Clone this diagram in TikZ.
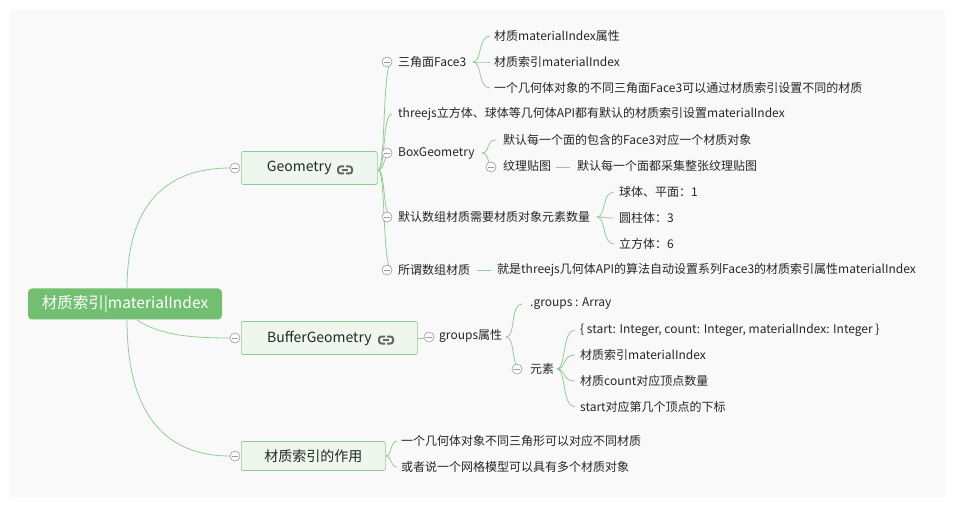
\documentclass[tikz,border=0pt]{standalone}
\usepackage{fontspec}
\setmainfont{Noto Sans CJK SC}
\begin{document}
\begin{tikzpicture}[x=1pt,y=-1pt,
  ln/.style={draw=lineg,line width=0.8pt},
  leaf/.style={anchor=west,inner sep=0pt,font=\fontsize{12}{13}\selectfont,text=black!85},
  mainbox/.style={draw=boxb,fill=boxf,rounded corners=2pt,line width=0.7pt,minimum height=33pt,font=\fontsize{14}{15}\selectfont,text=black!85},
  coll/.style={circle,draw=gray!80,fill=white,line width=0.6pt,minimum size=10pt,inner sep=0pt,path picture={\draw[gray!80,line width=0.6pt] ([xshift=-3pt]path picture bounding box.center)--([xshift=3pt]path picture bounding box.center);}}]
\definecolor{lineg}{HTML}{93CC93}
\definecolor{boxb}{HTML}{8CC98C}
\definecolor{boxf}{HTML}{EEF6EE}
\definecolor{rootf}{HTML}{72BF72}
\definecolor{bgc}{HTML}{F9F9F9}
\newcommand{\linkicon}[1]{\begin{scope}[shift={(#1)}]
 \draw[gray!80!black,line width=2pt,rounded corners=2.5pt] (-1,-3.5) -- (-7,-3.5) -- (-7,3.5) -- (-1,3.5);
 \draw[gray!80!black,line width=2pt,rounded corners=2.5pt] (1,-3.5) -- (7,-3.5) -- (7,3.5) -- (1,3.5);
 \draw[gray!80!black,line width=2pt] (-3,0) -- (3,0);\end{scope}}
\useasboundingbox (0,0) rectangle (963,510);
\fill[white] (0,0) rectangle (963,510);
\fill[bgc] (10,10) rectangle (945,497);
% main connectors
\draw[ln] (127,289) .. controls (127,200) and (170,168) .. (230,168);
\draw[ln] (137,320) .. controls (160,335) and (190,338) .. (230,338);
\draw[ln] (127,320) .. controls (127,420) and (170,456) .. (230,456);
% root
\node[fill=rootf,rounded corners=4pt,minimum width=194pt,minimum height=31pt,text=white,font=\fontsize{15.5}{16}\selectfont] (root) at (125,304) {材质索引|materialIndex};
% boxes
\node[mainbox,minimum width=136pt,anchor=west] (geo) at (241,168) {\hspace*{-20pt}Geometry};
\linkicon{345,170}
\node[mainbox,minimum width=176pt,anchor=west] (buf) at (241,338) {\hspace*{-20pt}BufferGeometry};
\linkicon{386,340}
\node[mainbox,minimum width=144pt,minimum height=29pt,anchor=west] (eff) at (241,456) {材质索引的作用};
\node[coll] at (235,168) {};
\node[coll] at (235,338) {};
\node[coll] at (235,456) {};
% Geometry children
\foreach \y in {62,114,153,217,270}{\draw[ln] (378,170) .. controls (386,170) and (382,\y) .. (392,\y);}
\node[leaf] (f3) at (398,62) {三角面Face3};
\node[leaf] (tj) at (398,114) {threejs立方体、球体等几何体API都有默认的材质索引设置materialIndex};
\node[leaf] (bg) at (398,153) {BoxGeometry};
\node[leaf] (mr) at (398,217) {默认数组材质需要材质对象元素数量};
\node[leaf] (sw) at (398,270) {所谓数组材质};
\node[coll] at (387,62) {};\node[coll] at (387,153) {};\node[coll] at (387,217) {};\node[coll] at (387,270) {};
% Face3
\foreach \y in {36,62,88}{\draw[ln] (473,62) .. controls (482,62) and (478,\y) .. (490,\y);}
\node[leaf] at (494,36) {材质materialIndex属性};
\node[leaf] at (494,62) {材质索引materialIndex};
\node[leaf] at (494,88) {一个几何体对象的不同三角面Face3可以通过材质索引设置不同的材质};
% BoxGeometry
\foreach \y in {140,167}{\draw[ln] (482,153) .. controls (490,153) and (486,\y) .. (496,\y);}
\node[leaf] at (503,140) {默认每一个面的包含的Face3对应一个材质对象};
\node[coll] at (491,167) {};
\node[leaf] at (503,166) {纹理贴图};
\draw[ln] (556,167) -- (570,167);
\node[leaf] at (577,166) {默认每一个面都采集整张纹理贴图};
% 默认数组
\foreach \y in {192,218,244}{\draw[ln] (597,217) .. controls (606,217) and (602,\y) .. (614,\y);}
\node[leaf] at (619,192) {球体、平面：1};
\node[leaf] at (619,218) {圆柱体：3};
\node[leaf] at (619,244) {立方体：6};
% 所谓
\draw[ln] (477,270) -- (491,270);
\node[leaf] at (497,270) {就是threejs几何体API的算法自动设置系列Face3的材质索引属性materialIndex};
% Buffer
\draw[ln] (418,338) -- (424,338);
\node[coll] at (429,337) {};
\node[leaf] at (439,336) {groups属性};
\foreach \y in {304,369}{\draw[ln] (506,337) .. controls (516,337) and (510,\y) .. (522,\y);}
\node[leaf] at (530,304) {.groups : Array};
\node[coll] at (517,369) {};
\node[leaf] at (530,369) {元素};
\foreach \y in {330,355,381,407}{\draw[ln] (557,369) .. controls (566,369) and (562,\y) .. (575,\y);}
\node[leaf] at (580,330) {\{ start: Integer, count: Integer, materialIndex: Integer \}};
\node[leaf] at (580,355) {材质索引materialIndex};
\node[leaf] at (580,381) {材质count对应顶点数量};
\node[leaf] at (580,407) {start对应第几个顶点的下标};
% effect
\foreach \y in {441,467}{\draw[ln] (386,456) .. controls (392,456) and (390,\y) .. (397,\y);}
\node[leaf] at (401,441) {一个几何体对象不同三角形可以对应不同材质};
\node[leaf] at (401,467) {或者说一个网格模型可以具有多个材质对象};
\end{tikzpicture}
\end{document}
